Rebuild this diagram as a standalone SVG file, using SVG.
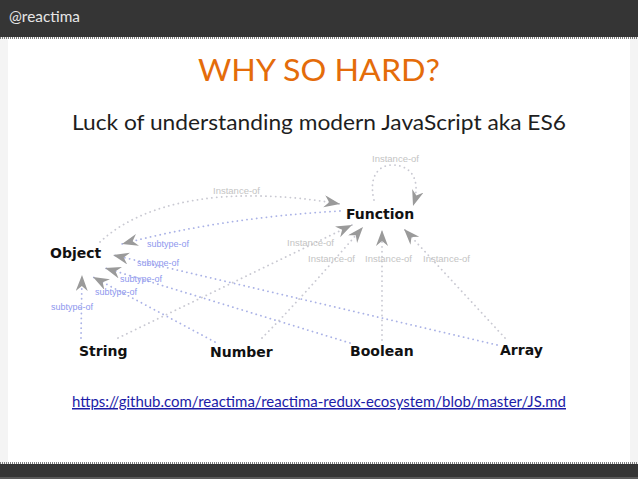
<svg xmlns="http://www.w3.org/2000/svg" width="638" height="479" viewBox="0 0 638 479">
<style>
.node{font-family:"DejaVu Sans",Verdana,sans-serif;font-weight:bold;font-size:14px;fill:#111}
.sub{font-family:"Liberation Sans",Arial,sans-serif;font-size:9px;fill:#8d98ee}
.inst{font-family:"Liberation Sans",Arial,sans-serif;font-size:9.5px;fill:#c4c4c4}
.eb{fill:none;stroke:#aab2e6;stroke-width:1.8;stroke-linecap:round;stroke-dasharray:0.1 4.8}
.eg{fill:none;stroke:#c9c9d2;stroke-width:1.8;stroke-linecap:round;stroke-dasharray:0.1 4.8}
.arr{marker-end:url(#ah)}
.slide{font-family:Lato,"Liberation Sans",Arial,sans-serif}
</style>
<defs>
<marker id="ah" markerUnits="userSpaceOnUse" markerWidth="18" markerHeight="14" refX="16" refY="6" orient="auto" viewBox="0 0 18 14">
<path d="M0,0 L16,6 L0,12 L5,6 Z" fill="#9a9a9a"/>
</marker>
</defs>
<rect x="0" y="0" width="638" height="479" fill="#f4f4f4"/>
<rect x="8" y="37" width="622" height="427" fill="#ffffff"/>
<g id="header">
<rect x="0" y="0" width="638" height="37" fill="#353535"/>
<line x1="0" y1="38" x2="638" y2="38" stroke="#555" stroke-width="1.5" stroke-dasharray="1 1"/>
<text class="slide" x="9" y="22" textLength="71" lengthAdjust="spacingAndGlyphs" font-size="15" fill="#e6e6e6">@reactima</text>
</g>
<g id="footer">
<line x1="0" y1="463" x2="638" y2="463" stroke="#555" stroke-width="1.5" stroke-dasharray="1 1"/>
<rect x="0" y="464" width="638" height="15" fill="#353535"/>
<rect x="0" y="477" width="638" height="2" fill="#5a5a5a"/>
</g>
<text id="title" class="slide" x="198" y="81" textLength="242" lengthAdjust="spacingAndGlyphs" font-size="30" fill="#e46c0a">WHY SO HARD?</text>
<text id="subtitle" class="slide" x="72" y="130" textLength="494" lengthAdjust="spacingAndGlyphs" font-size="21" fill="#1e1e1e">Luck of understanding modern JavaScript aka ES6</text>
<text id="url" class="slide" x="72" y="407" textLength="494" lengthAdjust="spacingAndGlyphs" font-size="15" fill="#1c1ca8" text-decoration="underline">https://github.com/reactima/reactima-redux-ecosystem/blob/master/JS.md</text>

<g id="connectors">
<path class="eg arr" d="M100,242 C145,200 230,185 340,204"/>
<path class="eg arr" d="M374,200 C368,175 380,165 392,165 C410,165 422,178 413,206"/>
<path class="eb arr" d="M340,211 Q220,218 122,244"/>
<path class="eb arr" d="M497,345 L113,255"/>
<path class="eb arr" d="M350,343 L105,268"/>
<path class="eb arr" d="M215,342 L93,277"/>
<path class="eb arr" d="M81,338 L82,275"/>
<path class="eg arr" d="M118,338 L352,225"/>
<path class="eg arr" d="M262,338 Q300,300 363,227"/>
<path class="eg arr" d="M382,340 L382,230"/>
<path class="eg arr" d="M505,338 L404,229"/>
<text class="sub" x="147" y="247">subtype-of</text>
<text class="sub" x="137" y="266">subtype-of</text>
<text class="sub" x="120" y="282">subtype-of</text>
<text class="sub" x="95" y="295">subtype-of</text>
<text class="sub" x="51" y="310">subtype-of</text>
<text class="inst" x="213" y="194">Instance-of</text>
<text class="inst" x="372" y="162">Instance-of</text>
<text class="inst" x="287" y="246">Instance-of</text>
<text class="inst" x="308" y="262">Instance-of</text>
<text class="inst" x="365" y="262">Instance-of</text>
<text class="inst" x="423" y="262">Instance-of</text>
</g>

<g id="node-object"><text class="node" x="50" y="258">Object</text></g>
<g id="node-function"><text class="node" x="346" y="219">Function</text></g>
<g id="node-string"><text class="node" x="79" y="356">String</text></g>
<g id="node-number"><text class="node" x="210" y="357">Number</text></g>
<g id="node-boolean"><text class="node" x="350" y="356">Boolean</text></g>
<g id="node-array"><text class="node" x="500" y="355">Array</text></g>
</svg>
